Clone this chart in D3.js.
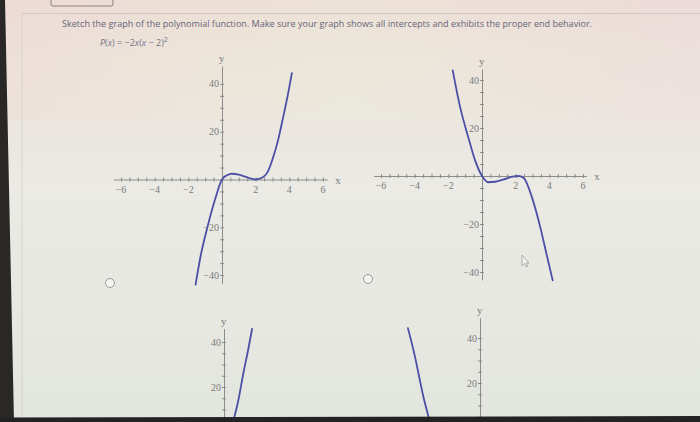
<!DOCTYPE html>
<html>
<head>
<meta charset="utf-8">
<script src="https://cdn.jsdelivr.net/npm/d3@7"></script>
<style>
html,body{margin:0;padding:0;background:#e8e7e2;}
svg{display:block;}
</style>
</head>
<body>
<svg id="chart" width="700" height="422"></svg>
<script>
// ---------- data ----------
const titleText = "Sketch the graph of the polynomial function. Make sure your graph shows all intercepts and exhibits the proper end behavior.";
const xTickLabels = [-6, -4, -2, 2, 4, 6];
const yTickLabels = [-40, -20, 20, 40];
const xMinorTicks = d3.range(-6, 6.01, 0.5);
const yMinorTicks = d3.range(-40, 40.01, 5);

// curves (x, y)
const curveA = [[-1.57,-44],[-1.27,-32],[-0.85,-19.5],[-0.42,-8.5],[0,0],[0.3,1.8],[0.6,2.4],[1.0,2.0],[1.45,1],[2.0,0],[2.4,0.8],[2.7,3],[3.05,9.5],[3.35,17],[3.6,25],[3.9,35],[4.15,44.5]];
const curveB = [[-1.74,44],[-1.31,29],[-0.81,16],[-0.42,6.7],[0,0],[0.37,-2.6],[0.8,-2.4],[1.3,-1.4],[1.8,-0.3],[2.2,0],[2.5,-1],[2.95,-8.5],[3.45,-21],[3.85,-33],[4.2,-43.5]];
const curveC = [[0.35,-1],[0.54,4.4],[0.85,14],[1.15,26],[1.45,37],[1.67,45.8]];
const curveD = [[-4.29,44.4],[-3.87,31.7],[-3.6,22],[-3.37,13.9],[-3.1,6],[-2.85,-1]];

// ---------- layout ----------
const svg = d3.select("#chart");
const W = 700, H = 422;
const defs = svg.append("defs");
const bg = defs.append("linearGradient").attr("id","bg").attr("x1",0).attr("y1",0).attr("x2",0).attr("y2",1);
bg.append("stop").attr("offset","0").attr("stop-color","#ecdcd6");
bg.append("stop").attr("offset","0.12").attr("stop-color","#ebe3da");
bg.append("stop").attr("offset","0.45").attr("stop-color","#ebeae4");
bg.append("stop").attr("offset","1").attr("stop-color","#e2e6de");
const bg2 = defs.append("linearGradient").attr("id","bg2").attr("x1",0).attr("y1",0).attr("x2",1).attr("y2",0);
bg2.append("stop").attr("offset","0").attr("stop-color","#f0d8d4").attr("stop-opacity",0.35);
bg2.append("stop").attr("offset","0.5").attr("stop-color","#eef0d8").attr("stop-opacity",0.25);
bg2.append("stop").attr("offset","1").attr("stop-color","#f0d8e0").attr("stop-opacity",0.3);

svg.append("rect").attr("width",W).attr("height",H).attr("fill","url(#bg)");
svg.append("rect").attr("width",W).attr("height",120).attr("fill","url(#bg2)");

// top widgets
svg.append("rect").attr("x",51).attr("y",-4).attr("width",62).attr("height",10).attr("rx",2)
  .attr("fill","none").attr("stroke","#8a8080").attr("stroke-width",1);
svg.append("line").attr("x1",22).attr("x2",700).attr("y1",13.5).attr("y2",13.5)
  .attr("stroke","#cfc8c4").attr("stroke-width",1);
svg.append("line").attr("x1",22).attr("x2",22).attr("y1",13.5).attr("y2",418)
  .attr("stroke","#d6d4d0").attr("stroke-width",1);

svg.append("text").attr("x",62).attr("y",27).attr("font-family","Open Sans, sans-serif")
  .attr("font-size",9).attr("fill","#66647a").attr("textLength",530).attr("lengthAdjust","spacingAndGlyphs")
  .text(titleText);

const f = svg.append("text").attr("x",100).attr("y",46).attr("font-family","Open Sans, sans-serif")
  .attr("font-size",9).attr("fill","#77758a");
f.append("tspan").attr("font-style","italic").text("P");
f.append("tspan").text("(");
f.append("tspan").attr("font-style","italic").text("x");
f.append("tspan").text(") = \u22122");
f.append("tspan").attr("font-style","italic").text("x");
f.append("tspan").text("(");
f.append("tspan").attr("font-style","italic").text("x");
f.append("tspan").text(" \u2212 2)");
f.append("tspan").attr("dy",-4).attr("font-size",7).text("2");

// ---------- panels ----------
const panels = [
  {ox:222, oy:179.5, kx:16.83, ky:2.39, xr:[-6.45,6.25], yr:[-43.5,47.5], data:curveA, showX:true, showNeg:true},
  {ox:482, oy:176,   kx:16.83, ky:2.40, xr:[-6.45,6.2],  yr:[-43.3,44.5], data:curveB, showX:true, showNeg:true},
  {ox:224, oy:432,   kx:16.8,  ky:2.25, xr:[-6.45,6.25], yr:[-10,46],     data:curveC, showX:false, showNeg:false},
  {ox:480, oy:428,   kx:16.8,  ky:2.25, xr:[-6.45,6.25], yr:[-10,49],     data:curveD, showX:false, showNeg:false}
];

const axisColor = "#8c8c8c";
const labelColor = "#7a7a7a";
const font = "Liberation Serif, serif";

panels.forEach(p => {
  const x = d3.scaleLinear().domain(p.xr).range([p.ox + p.xr[0]*p.kx, p.ox + p.xr[1]*p.kx]);
  const y = d3.scaleLinear().domain(p.yr).range([p.oy - p.yr[0]*p.ky, p.oy - p.yr[1]*p.ky]);
  const g = svg.append("g");

  if (p.showX) {
    const ax = g.append("g").attr("transform",`translate(0,${y(0)})`)
      .call(d3.axisBottom(x).tickValues(xMinorTicks).tickFormat("").tickSize(2).tickSizeOuter(0));
    ax.select(".domain").attr("stroke",axisColor);
    ax.selectAll(".tick line").attr("stroke",axisColor).attr("y1",-2).attr("y2",2);
    g.selectAll(".xl").data(xTickLabels).join("text")
      .attr("x",d=>x(d)).attr("y",y(0)+13).attr("text-anchor","middle")
      .attr("font-family",font).attr("font-size",10).attr("fill",labelColor)
      .text(d => d < 0 ? "\u2212" + Math.abs(d) : d);
    g.append("text").attr("x",x(p.xr[1])+8).attr("y",y(0)+4).attr("font-family",font)
      .attr("font-size",11).attr("fill",labelColor).text("x");
  }

  const yAxisVals = yMinorTicks.filter(v => v >= p.yr[0] && v <= p.yr[1]);
  const ay = g.append("g").attr("transform",`translate(${x(0)},0)`)
    .call(d3.axisLeft(y).tickValues(yAxisVals).tickFormat("").tickSize(2).tickSizeOuter(0));
  ay.select(".domain").attr("stroke",axisColor);
  ay.selectAll(".tick line").attr("stroke",axisColor).attr("x1",-2).attr("x2",2);
  g.selectAll(".yl").data(yTickLabels.filter(v => v>=p.yr[0] && v<=p.yr[1] && (p.showNeg || v>0))).join("text")
    .attr("x",x(0)-3).attr("y",d=>y(d)+3.5).attr("text-anchor","end")
    .attr("font-family",font).attr("font-size",10).attr("fill",labelColor)
    .text(d => d < 0 ? "\u2212" + Math.abs(d) : d);
  g.append("text").attr("x",x(0)-3).attr("y",y(p.yr[1])-4).attr("font-family",font)
    .attr("font-size",11).attr("fill",labelColor).text("y");

  const line = d3.line().x(d=>x(d[0])).y(d=>y(d[1])).curve(d3.curveMonotoneX);
  g.append("path").datum(p.data).attr("d",line).attr("fill","none")
    .attr("stroke","#4b4fa6").attr("stroke-width",1.8).attr("stroke-linecap","round");
});

// radio buttons
[[110,283],[368,279]].forEach(c => {
  svg.append("circle").attr("cx",c[0]).attr("cy",c[1]).attr("r",4.5)
    .attr("fill","#f3f3f1").attr("stroke","#9a9a9a").attr("stroke-width",1);
});

// mouse cursor
svg.append("path").attr("d","M522,255 L522,266 L524.5,263.5 L526.5,267 L528,266.3 L526,263 L529,263 Z")
  .attr("fill","#f0f0ee").attr("stroke","#a0a0a0").attr("stroke-width",0.8);

// screen bezel edges
svg.append("path").attr("d","M0,0 L5,0 L14,422 L0,422 Z").attr("fill","#2a2826");
svg.append("path").attr("d","M0,417.5 L700,416 L700,422 L0,422 Z").attr("fill","#232323");
</script>
</body>
</html>
